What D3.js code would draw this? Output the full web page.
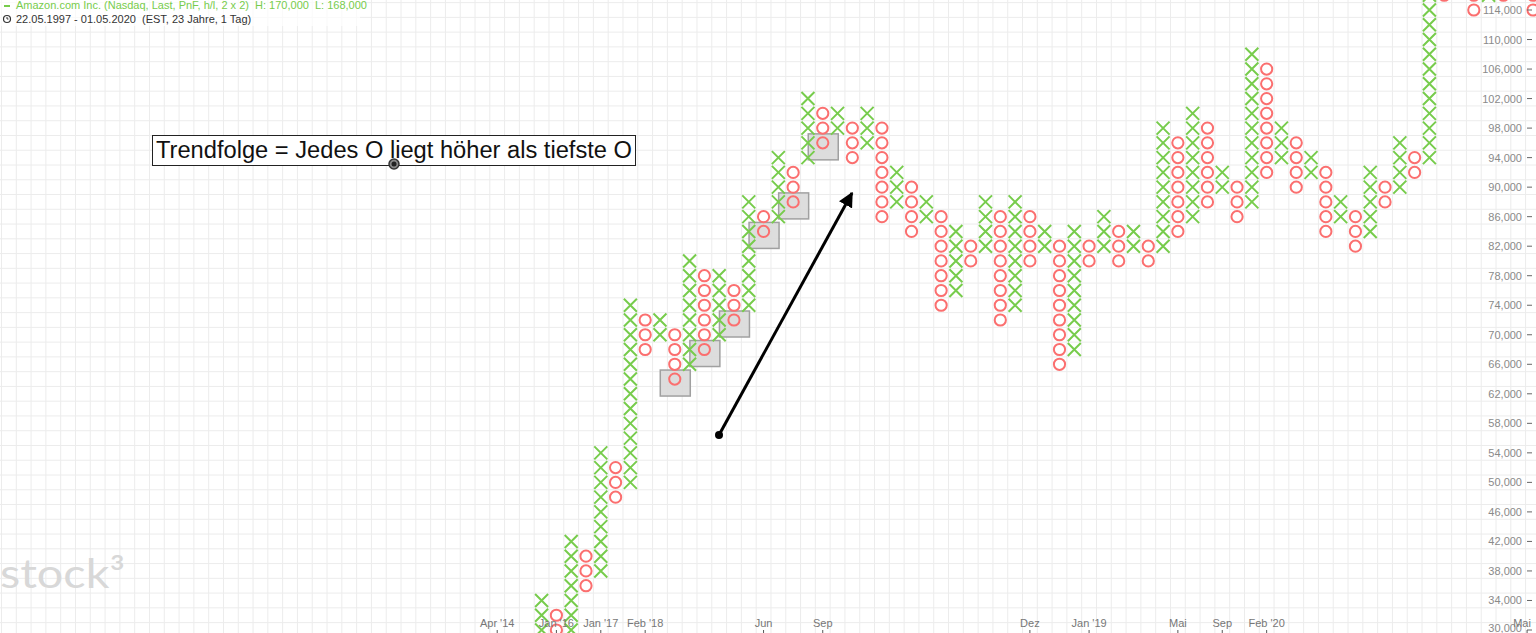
<!DOCTYPE html>
<html><head><meta charset="utf-8">
<script src="https://cdn.jsdelivr.net/npm/d3@7"></script>
<style>body{margin:0;background:#fff}svg{display:block}</style>
</head><body>
<svg id="c" width="1536" height="633"></svg>
<script>
const colType = ["X","O","X","O","X","O","X","O","X","O","X","O","X","O","X","O","X","O","X","O","X","O","X","O","X","O","X","O","X","O","X","O","X","O","X","O","X","O","X","O","X","O","X","O","X","O","X","O","X","O","X","O","X","O","X","O","X","O","X","O","X","O","X","O","X","O","X","O"];
const colLow  = [28000,28000,30000,36000,38000,48000,50000,68000,70000,64000,66000,68000,70000,72000,74000,84000,86000,88000,94000,96000,98000,94000,96000,86000,88000,84000,86000,74000,76000,80000,82000,72000,74000,80000,82000,66000,68000,80000,82000,80000,82000,80000,82000,84000,86000,88000,90000,86000,88000,92000,94000,90000,92000,84000,86000,82000,84000,88000,90000,92000,94000,116000,118000,114000,116000,116000,118000,114000];
const colHigh = [34000,32000,42000,40000,54000,52000,74000,72000,72000,70000,80000,78000,78000,76000,88000,86000,94000,92000,102000,100000,100000,98000,100000,98000,92000,90000,88000,86000,84000,82000,88000,86000,88000,86000,84000,82000,84000,82000,86000,84000,84000,82000,98000,96000,100000,98000,92000,90000,108000,106000,98000,96000,94000,92000,88000,86000,92000,90000,96000,94000,116000,118000,120000,116000,118000,116000,118000,116000];
const yTicks = d3.range(30000, 114001, 4000);
const xLabels = [[-3,"Apr '14"],[1,"Jan '16"],[4,"Jan '17"],[7,"Feb '18"],[15,"Jun"],[19,"Sep"],[33,"Dez"],[37,"Jan '19"],[43,"Mai"],[46,"Sep"],[49,"Feb '20"],[66.6,"Mai"]];
const boxCols = [9,11,13,15,17,19];

const svg = d3.select("#c");
const x = d3.scaleLinear().domain([0,67]).range([541.6,1533]);
const y = d3.scaleLinear().domain([30000,114000]).range([630,10]);

const g = svg.append("g").attr("stroke","#ececec").attr("stroke-width",1);
d3.range(-40,70).forEach(i=>g.append("line").attr("x1",x(i-0.5)).attr("x2",x(i-0.5)).attr("y1",0).attr("y2",633));
d3.range(-1000,140000,2000).forEach(v=>{const yy=y(v); if(yy>=-2&&yy<=640) g.append("line").attr("x1",0).attr("x2",1536).attr("y1",yy).attr("y2",yy);});

svg.append("text").attr("x",0).attr("y",588).attr("font-family","Lato, sans-serif").attr("font-size",40).attr("fill","#d8d8d8").attr("textLength",125).attr("lengthAdjust","spacingAndGlyphs").text("stock³");

boxCols.forEach(i=>{
  svg.append("rect").attr("x",x(i)-14.5).attr("y",y(colLow[i])-9).attr("width",30).attr("height",26)
    .attr("fill","#d9d9d9").attr("fill-opacity",0.9).attr("stroke","#a0a0a0").attr("stroke-width",1.5);
});

const sym = svg.append("g");
colType.forEach((t,i)=>{
  for(let v=colLow[i]; v<=colHigh[i]; v+=2000){
    const cx=x(i), cy=y(v);
    if(t==="X"){
      sym.append("path").attr("d",`M${cx-6.5},${cy-6.5}L${cx+6.5},${cy+6.5}M${cx+6.5},${cy-6.5}L${cx-6.5},${cy+6.5}`)
        .attr("stroke","#77cc4c").attr("stroke-width",2).attr("fill","none");
    } else {
      sym.append("circle").attr("cx",cx).attr("cy",cy).attr("r",5.6).attr("fill","none").attr("stroke","#fb6f6f").attr("stroke-width",2);
    }
  }
});

const ya = svg.append("g");
yTicks.forEach(v=>{
  ya.append("text").attr("x",1522).attr("y",Math.min(y(v)+4,632)).attr("text-anchor","end").attr("font-family","Arial, Liberation Sans, sans-serif").attr("font-size",11).attr("fill","#8a8a8a").text(d3.format(",")(v));
  ya.append("line").attr("x1",1527).attr("x2",1532).attr("y1",y(v)).attr("y2",y(v)).attr("stroke","#666");
});
xLabels.forEach(([i,l])=>{
  svg.append("text").attr("x",Math.min(x(i),1522)).attr("y",627).attr("text-anchor","middle").attr("font-family","Arial, Liberation Sans, sans-serif").attr("font-size",11).attr("fill","#777").text(l);
  svg.append("line").attr("x1",x(i)).attr("x2",x(i)).attr("y1",630).attr("y2",633).attr("stroke","#555");
});

svg.append("defs").append("marker").attr("id","ah").attr("viewBox","0 0 10 10").attr("refX",9).attr("refY",5).attr("markerWidth",5).attr("markerHeight",5).attr("orient","auto")
  .append("path").attr("d","M0,0L10,5L0,10z").attr("fill","#000");
svg.append("line").attr("x1",719).attr("y1",435).attr("x2",852).attr("y2",193).attr("stroke","#000").attr("stroke-width",3).attr("marker-end","url(#ah)");
svg.append("circle").attr("cx",719).attr("cy",435).attr("r",4).attr("fill","#000");

svg.append("rect").attr("x",152.5).attr("y",135.5).attr("width",483).attr("height",30).attr("fill","#fff").attr("stroke","#222");
svg.append("text").attr("x",156).attr("y",158).attr("font-family","Arial, Liberation Sans, sans-serif").attr("font-size",23).attr("fill","#111").attr("textLength",476).attr("lengthAdjust","spacingAndGlyphs").text("Trendfolge = Jedes O liegt höher als tiefste O");
svg.append("circle").attr("cx",394).attr("cy",164).attr("r",5).attr("fill","#888").attr("stroke","#333").attr("stroke-width",1.5);
svg.append("circle").attr("cx",394).attr("cy",164).attr("r",2.5).attr("fill","#222");

svg.append("rect").attr("x",0).attr("y",0).attr("width",360).attr("height",26).attr("fill","#fff").attr("fill-opacity",0.7);
svg.append("line").attr("x1",4).attr("x2",10).attr("y1",6).attr("y2",6).attr("stroke","#77cc4c").attr("stroke-width",2);
svg.append("text").attr("x",16).attr("y",9).attr("font-family","Arial, Liberation Sans, sans-serif").attr("font-size",11).attr("fill","#77cc4c").style("white-space","pre").text("Amazon.com Inc. (Nasdaq, Last, PnF, h/l, 2 x 2)  H: 170,000  L: 168,000");
svg.append("circle").attr("cx",7).attr("cy",19).attr("r",3.5).attr("fill","none").attr("stroke","#333").attr("stroke-width",1.2);
svg.append("path").attr("d","M7,17V19H8.5").attr("stroke","#333").attr("fill","none");
svg.append("text").attr("x",16).attr("y",23).attr("font-family","Arial, Liberation Sans, sans-serif").attr("font-size",11).attr("fill","#333").style("white-space","pre").text("22.05.1997 - 01.05.2020  (EST, 23 Jahre, 1 Tag)");
</script>
</body></html>
